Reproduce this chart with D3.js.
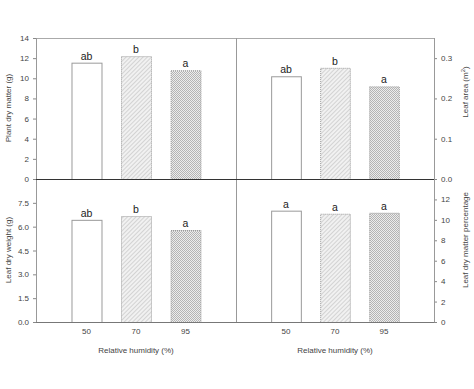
<!DOCTYPE html>
<html>
<head>
<meta charset="utf-8">
<script src="https://cdn.jsdelivr.net/npm/d3@7"></script>
<style>
  body { margin: 0; background: #fff; }
  svg { display: block; font-family: Arial, "Liberation Sans", sans-serif; }
</style>
</head>
<body>
<div id="chart"></div>
<script>
// humidity levels on the x axis
const humidity = ["50", "70", "95"];

// values
const plantDryMatter = [11.55, 12.2, 10.8];
const leafArea = [0.255, 0.276, 0.23];
const leafDryWeight = [6.43, 6.67, 5.79];
const leafDryPct = [10.9, 10.6, 10.7];

// significance letters
const lettersPlant = ["ab", "b", "a"];
const lettersArea = ["ab", "b", "a"];
const lettersWeight = ["ab", "b", "a"];
const lettersPct = ["a", "a", "a"];

const width = 474, height = 389;
const padL = 36, midX = 236, padR = 434;
const padT = 38, midY = 179, padB = 322;

const svg = d3.select("#chart").append("svg")
    .attr("width", width)
    .attr("height", height);

const defs = svg.append("defs");

// diagonal hatch for 70 %
const hatch = defs.append("pattern")
    .attr("id", "hatch")
    .attr("patternUnits", "userSpaceOnUse")
    .attr("width", 3).attr("height", 3)
    .attr("patternTransform", "rotate(45)");
hatch.append("rect").attr("width", 3).attr("height", 3).attr("fill", "#f1f1f1");
hatch.append("line")
    .attr("x1", 0).attr("y1", 0).attr("x2", 0).attr("y2", 3)
    .attr("stroke", "#b5b5b5").attr("stroke-width", 1);

// cross hatch for 95 %
const cross = defs.append("pattern")
    .attr("id", "cross")
    .attr("patternUnits", "userSpaceOnUse")
    .attr("width", 2).attr("height", 2);
cross.append("rect").attr("width", 2).attr("height", 2).attr("fill", "#ececec");
cross.append("rect").attr("width", 1).attr("height", 1).attr("fill", "#b4b4b4");
cross.append("rect").attr("x", 1).attr("y", 1).attr("width", 1).attr("height", 1).attr("fill", "#b4b4b4");

const fills = ["#fff", "url(#hatch)", "url(#cross)"];
const dashes = [null, "1,1", "1,1"];

const xLeft = d3.scaleBand().domain(humidity).range([padL, midX]).paddingInner(0.394).paddingOuter(0.717);
const xRight = d3.scaleBand().domain(humidity).range([midX, padR]).paddingInner(0.394).paddingOuter(0.717);

const drawBars = function(values, letters, x, y) {
    const g = svg.append("g");
    g.selectAll("rect")
        .data(values)
        .enter().append("rect")
        .attr("x", (d, i) => x(humidity[i]) + 0.5)
        .attr("y", d => y(d) + 0.5)
        .attr("width", x.bandwidth())
        .attr("height", d => y(0) - y(d))
        .attr("fill", (d, i) => fills[i])
        .attr("stroke", "#9a9a9a")
        .attr("stroke-width", 1)
        .attr("stroke-dasharray", (d, i) => dashes[i]);
    g.selectAll("text")
        .data(values)
        .enter().append("text")
        .attr("x", (d, i) => x(humidity[i]) + x.bandwidth() / 2)
        .attr("y", d => y(d) - 3)
        .attr("text-anchor", "middle")
        .attr("font-size", 10.5)
        .attr("fill", "#222")
        .text((d, i) => letters[i]);
};

const styleAxis = function(g) {
    g.select(".domain").remove();
    g.selectAll(".tick line").attr("stroke", "#888");
    g.selectAll(".tick text").attr("fill", "#444").attr("font-size", 8);
};

// scales
const yPlant = d3.scaleLinear().domain([0, 14]).range([midY, padT]);
const yArea = d3.scaleLinear().domain([0, 0.35]).range([midY, padT]);
const yWeight = d3.scaleLinear().domain([0, 9]).range([padB, midY]);
const yPct = d3.scaleLinear().domain([0, 14]).range([padB, midY]);

drawBars(plantDryMatter, lettersPlant, xLeft, yPlant);
drawBars(leafArea, lettersArea, xRight, yArea);
drawBars(leafDryWeight, lettersWeight, xLeft, yWeight);
drawBars(leafDryPct, lettersPct, xRight, yPct);

// axes
svg.append("g").attr("transform", "translate(" + padL + ",0)")
    .call(d3.axisLeft(yPlant).tickValues([0, 2, 4, 6, 8, 10, 12, 14]).tickSize(3).tickPadding(4))
    .call(styleAxis);
svg.append("g").attr("transform", "translate(" + padL + ",0)")
    .call(d3.axisLeft(yWeight).tickValues([0, 1.5, 3, 4.5, 6, 7.5]).tickFormat(d3.format(".1f")).tickSize(3).tickPadding(4))
    .call(styleAxis);
svg.append("g").attr("transform", "translate(" + padR + ",0)")
    .call(d3.axisRight(yArea).tickValues([0, 0.1, 0.2, 0.3]).tickFormat(d3.format(".1f")).tickSize(3).tickPadding(4))
    .call(styleAxis);
svg.append("g").attr("transform", "translate(" + padR + ",0)")
    .call(d3.axisRight(yPct).tickValues([0, 2, 4, 6, 8, 10, 12]).tickSize(3).tickPadding(4))
    .call(styleAxis);

// frame lines
const frame = svg.append("g").attr("fill", "none");
frame.append("line").attr("x1", padL).attr("x2", padR).attr("y1", padT + 0.5).attr("y2", padT + 0.5).attr("stroke", "#aaa");
frame.append("line").attr("x1", padL + 0.5).attr("x2", padL + 0.5).attr("y1", padT).attr("y2", padB).attr("stroke", "#999");
frame.append("line").attr("x1", padR + 0.5).attr("x2", padR + 0.5).attr("y1", padT).attr("y2", padB).attr("stroke", "#999");
frame.append("line").attr("x1", midX + 0.5).attr("x2", midX + 0.5).attr("y1", padT).attr("y2", padB).attr("stroke", "#999");
frame.append("line").attr("x1", padL).attr("x2", padR).attr("y1", midY + 0.5).attr("y2", midY + 0.5).attr("stroke", "#333");
frame.append("line").attr("x1", padL).attr("x2", padR).attr("y1", padB + 0.5).attr("y2", padB + 0.5).attr("stroke", "#777");

// x labels
[xLeft, xRight].forEach(function(x) {
    svg.append("g").selectAll("text")
        .data(humidity)
        .enter().append("text")
        .attr("x", d => x(d) + x.bandwidth() / 2)
        .attr("y", 334)
        .attr("text-anchor", "middle")
        .attr("font-size", 8)
        .attr("fill", "#444")
        .text(d => d);
    svg.append("text")
        .attr("x", x(humidity[1]) + x.bandwidth() / 2)
        .attr("y", 353)
        .attr("text-anchor", "middle")
        .attr("font-size", 8)
        .attr("fill", "#444")
        .text("Relative humidity (%)");
});

// y titles
const yTitle = function(x, y, txt) {
    return svg.append("text")
        .attr("transform", "translate(" + x + "," + y + ") rotate(-90)")
        .attr("text-anchor", "middle")
        .attr("font-size", 8)
        .attr("fill", "#444")
        .text(txt);
};
yTitle(11, 108, "Plant dry matter (g)");
yTitle(11, 250, "Leaf dry weight (g)");
const areaT = yTitle(468, 92, "Leaf area (m");
areaT.append("tspan").attr("baseline-shift", "super").attr("font-size", 6).text("2");
areaT.append("tspan").text(")");
yTitle(468, 240, "Leaf dry matter percentage");
</script>
</body>
</html>
